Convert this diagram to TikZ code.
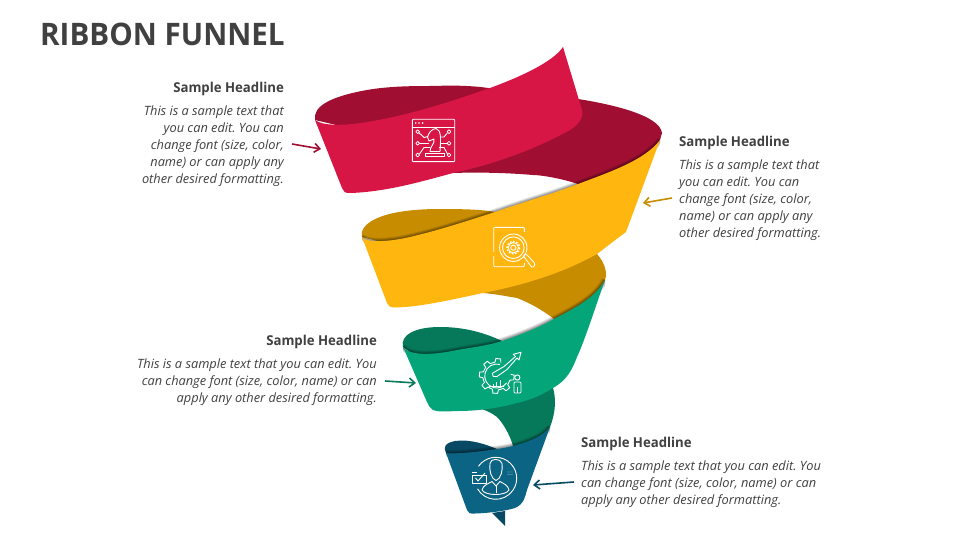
\documentclass[tikz,border=0pt]{standalone}
\usepackage{fontspec}
\setmainfont{Open Sans}
\usetikzlibrary{arrows.meta}
\definecolor{redF}{HTML}{D81645}\definecolor{redB}{HTML}{A00F32}
\definecolor{yelF}{HTML}{FFB60F}\definecolor{yelB}{HTML}{C78C00}
\definecolor{grnF}{HTML}{05A57A}\definecolor{grnB}{HTML}{06795B}
\definecolor{bluF}{HTML}{0C6485}\definecolor{bluB}{HTML}{084A63}
\definecolor{ink}{HTML}{404040}
\tikzset{
  x=1pt,y=-1pt,
  title/.style={font=\fontsize{31}{36}\bfseries\addfontfeatures{FakeStretch=.955},text=ink,anchor=base west,inner sep=0pt},
  head/.style={font=\fontsize{13.6}{16}\bfseries\addfontfeatures{FakeStretch=.97},text=ink,inner sep=0pt},
  bodyR/.style={font=\fontsize{12.8}{16.8}\itshape\frenchspacing,text=ink,inner sep=0pt,align=right,anchor=north east},
  bodyL/.style={font=\fontsize{12.8}{16.8}\itshape\frenchspacing,text=ink,inner sep=0pt,align=left,anchor=north west},
  lead/.style={-{Straight Barb[length=5.5pt,width=9pt]},line width=1.6pt},
  icon/.style={draw=white,line width=.9pt,fill=none,line join=round},
  yellowtop/.style={insert path={(362,237) .. controls (367,243) and (388,242) .. (410,237) .. controls (440,230) and (470,220) .. (495,212) .. controls (530,200) and (555,193) .. (578,184) .. controls (610,172) and (645,160) .. (660,140)}},
  greentop/.style={insert path={(403,347) .. controls (408,355) and (430,356) .. (457,350) .. controls (475,347) and (490,345) .. (502,341) .. controls (520,335) and (538,328) .. (554,319) .. controls (575,308) and (595,298) .. (605,280)}},
  bluetop/.style={insert path={(446,453) .. controls (450,454) and (470,453) .. (490,450) .. controls (497,449) and (505,448) .. (513,446) .. controls (528,442) and (542,437) .. (550,427)}},
}
\newcommand{\softedge}[1]{%
  \foreach \w in {1.5,3,4.5,6.5}{\draw[black,opacity=.12,line width=\w pt,#1];}}
\begin{document}
\begin{tikzpicture}
\useasboundingbox (0,0) rectangle (960,540);
\fill[white] (0,0) rectangle (960,540);
\node[title] (ttl) at (40,45.5) {RIBBON FUNNEL};

% back faces
\fill[redB] (315,120) .. controls (313,107) and (328,97) .. (367,90) .. controls (390,86) and (415,86) .. (433,86) .. controls (460,85) and (480,86) .. (500,90) .. controls (530,94) and (560,95) .. (578,99) .. controls (610,104) and (660,115) .. (662,133) -- (660,140) -- (620,190) -- (578,184) .. controls (560,178) and (540,175) .. (533,175) .. controls (510,173) and (480,172) .. (453,173) -- (400,140) -- cycle;
\fill[yelB] (362,237) .. controls (359,226) and (375,209) .. (440,209) .. controls (470,209) and (485,210) .. (495,212) -- (450,260) -- cycle;
\fill[yelB] (597,254) .. controls (604,262) and (608,272) .. (605,280) -- (580,320) -- (554,319) .. controls (540,308) and (525,301) .. (517,298) .. controls (505,296) and (495,294) .. (483,293) -- (540,260) -- cycle;
\fill[grnB] (403,347) .. controls (400,335) and (415,327) .. (440,327) .. controls (465,327) and (485,333) .. (502,341) -- (450,380) -- cycle;
\fill[grnB] (553,388) .. controls (556,398) and (556,412) .. (550,427) -- (530,450) -- (513,446) .. controls (510,435) and (503,423) .. (497,417) .. controls (492,413) and (487,411) .. (482,409) -- (520,395) -- cycle;
\fill[bluB] (446,453) .. controls (443,447) and (445,443) .. (455,441) .. controls (470,439) and (485,444) .. (497,449) -- (470,470) -- cycle;
\fill[bluB] (492,513) -- (505,526) -- (505,511) -- cycle;

% soft shadows
\begin{scope}
\clip (362,130) rectangle (660,250);
\softedge{yellowtop}
\end{scope}
\begin{scope}
\clip (403,275) rectangle (605,360);
\softedge{greentop}
\end{scope}
\begin{scope}
\clip (446,420) rectangle (550,460);
\softedge{bluetop}
\end{scope}

% front faces
\fill[redF] (315,120) .. controls (322,126) and (345,126) .. (367,122) .. controls (410,115) and (450,102) .. (490,88) .. controls (520,77) and (553,62) .. (563,47) -- (582,110) .. controls (584,118) and (578,125) .. (570,130) .. controls (530,152) and (490,165) .. (453,173) .. controls (420,182) and (385,192) .. (350,193) .. controls (345,193.5) and (343,191) .. (342,188) -- cycle;
\fill[yelF,yellowtop] -- (626,232) .. controls (615,240) and (605,248) .. (597,254) .. controls (565,272) and (525,285) .. (483,293) .. controls (450,300) and (420,307) .. (395,307.5) .. controls (390,307.5) and (388,306) .. (387,303) -- cycle;
\fill[grnF,greentop] .. controls (596,305) and (585,340) .. (577,357) .. controls (572,370) and (567,380) .. (553,388) .. controls (540,396) and (530,400) .. (517,403) .. controls (495,409) and (475,411) .. (457,411) .. controls (445,411.5) and (438,412) .. (433,410) .. controls (430,408) and (428,405) .. (427,402) -- cycle;
\fill[bluF,bluetop] -- (527,490) .. controls (525,497) and (524,504) .. (515,508) .. controls (505,511) and (490,513) .. (475,513.5) .. controls (470,514) and (468,513) .. (467,510) -- cycle;

% icon 1: chess knight
\draw[icon,rounded corners=1pt] (412.3,119.3) rectangle (454.7,161.7);
\draw[icon] (412.3,127) -- (454.7,127);
\foreach \q in {415.7,419,422.6}{\fill[white] (\q,123) circle (.9);}
\foreach \q/\r in {417.7/131.7,417.7/143.3,417.7/155,449/131.7,449/143.3,449/155}{\draw[icon,line width=.8pt] (\q,\r) circle (1.9);}
\draw[icon] (419.3,133) -- (424,137.5) -- (428,136.5);
\draw[icon] (419.7,143.3) -- (429,143.3);
\draw[icon] (419.5,154) -- (424,147.5) -- (430,147.5);
\draw[icon] (447.3,133) -- (444,137) -- (441,137);
\draw[icon] (447,143.3) -- (440,143.3);
\draw[icon] (447.5,154) -- (444,147.5) -- (439,147.5);
\draw[icon] (430,151.5) .. controls (430,146) and (435,144) .. (434,139) -- (429,141) -- (427.5,137) .. controls (429,132) and (432,129) .. (436,128.5) .. controls (441,130) and (441,137) .. (440,151.5) -- cycle;
\draw[icon] (425.7,153.3) rectangle (444,156.7);

% icon 2: magnifier on page
\draw[icon,rounded corners=1pt] (493.7,252) -- (493.7,227.3) -- (524.3,227.3) -- (524.3,232);
\draw[icon,rounded corners=1pt] (493.7,256) -- (493.7,266.7) -- (524.3,266.7) -- (524.3,263);
\draw[icon] (513.3,247.7) circle (13.7);
\draw[icon] (513.3,247.7) circle (10.8);
\draw[icon] (513.3,247.7) circle (2.6);
\draw[icon] (513.3,247.7) circle (5.2);
\draw[icon,dash pattern=on 1.6pt off 1.6pt,line width=1.4pt] (513.3,247.7) circle (6.2);
\draw[icon,rounded corners=1.5pt] (523,255.5) -- (526,253.8) -- (535.5,264) -- (532.5,268.2) -- cycle;

% icon 3: gear, arrow, person
\begin{scope}[shift={(496.7,376)}]
\draw[icon] (-7:14) foreach \a in {5,50,...,275}{ -- (\a-12:14) -- (\a-8:17.5) -- (\a+8:17.5) -- (\a+12:14)};
\draw[icon] (-75:12) arc[start angle=-75,delta angle=-250,radius=12];
\end{scope}
\draw[icon] (492.3,373.3) -- (504,366.5) -- (515.5,356.5) -- (513.3,354.3) -- (521,352.3) -- (519,360) -- (517,358) -- (507,369.5) -- (496.7,376.7) .. controls (494,377.5) and (491.5,376) .. (492.3,373.3) -- cycle;
\foreach \q/\r in {493/384,496.5/382,500/379.5}{\draw[icon] (\q,385.5) -- (\q,\r);}
\draw[icon] (489,386.5) -- (504,386.5);
\draw[icon] (517.3,377.5) circle (2.6);
\draw[icon,rounded corners=1pt] (514,393) -- (514,382) -- (521,382) -- (521,393) -- cycle;
\draw[icon] (517.5,393) -- (517.5,387);

% icon 4: person in circle
\draw[icon] (495.7,478.3) ++(215:21) arc[start angle=215,delta angle=295,radius=21];
\draw[icon] (482,490) .. controls (485,496) and (506,496) .. (509,490);
\draw[icon] (490,463.5) .. controls (490,458) and (501,458) .. (502,463.5) .. controls (503,470) and (501,479) .. (496,480.5) .. controls (491,479) and (489,470) .. (490,463.5) -- cycle;
\draw[icon] (482,490) .. controls (483,485) and (488,484) .. (492,481.5) -- (496,486) -- (500,481.5) .. controls (504,484) and (508,485) .. (509,490);
\draw[icon] (496,486) -- (496,493);
\draw[icon] (472.3,475.5) rectangle (486,483.3);
\draw[icon] (472.3,472.5) -- (477,472.5);
\draw[icon] (475.5,478) -- (478,481) -- (485,473);
\foreach \q in {508,510,512}{\foreach \r in {472,474.5}{\fill[white] (\q,\r) circle (.45);}}

% texts
\node[head,anchor=base east] (h1) at (284,92.8) {Sample Headline};
\node[bodyR] (t1) at (284,106) {This is a sample text that\\you can edit. You can\\change font (size, color,\\name) or can apply any\\other desired formatting.};
\node[head,anchor=base west] (h2) at (679,146.8) {Sample Headline};
\node[bodyL] (t2) at (679,160) {This is a sample text that\\you can edit. You can\\change font (size, color,\\name) or can apply any\\other desired formatting.};
\node[head,anchor=base east] (h3) at (377,345.8) {Sample Headline};
\node[bodyR] (t3) at (377,358.7) {This is a sample text that you can edit. You\\can change font (size, color, name) or can\\apply any other desired formatting.};
\node[head,anchor=base west] (h4) at (581,447.8) {Sample Headline};
\node[bodyL] (t4) at (581,460.5) {This is a sample text that you can edit. You\\can change font (size, color, name) or can\\apply any other desired formatting.};

% leader arrows
\coordinate (a1s) at (292,144); \coordinate (a1e) at (321,149);
\coordinate (a2s) at (672,198); \coordinate (a2e) at (643,203);
\coordinate (a3s) at (385,381); \coordinate (a3e) at (416,383);
\coordinate (a4s) at (574,482); \coordinate (a4e) at (533,485);
\draw[lead,redB] (a1s) -- (a1e);
\draw[lead,yelB] (a2s) -- (a2e);
\draw[lead,grnB] (a3s) -- (a3e);
\draw[lead,bluB] (a4s) -- (a4e);
\end{tikzpicture}
\end{document}
